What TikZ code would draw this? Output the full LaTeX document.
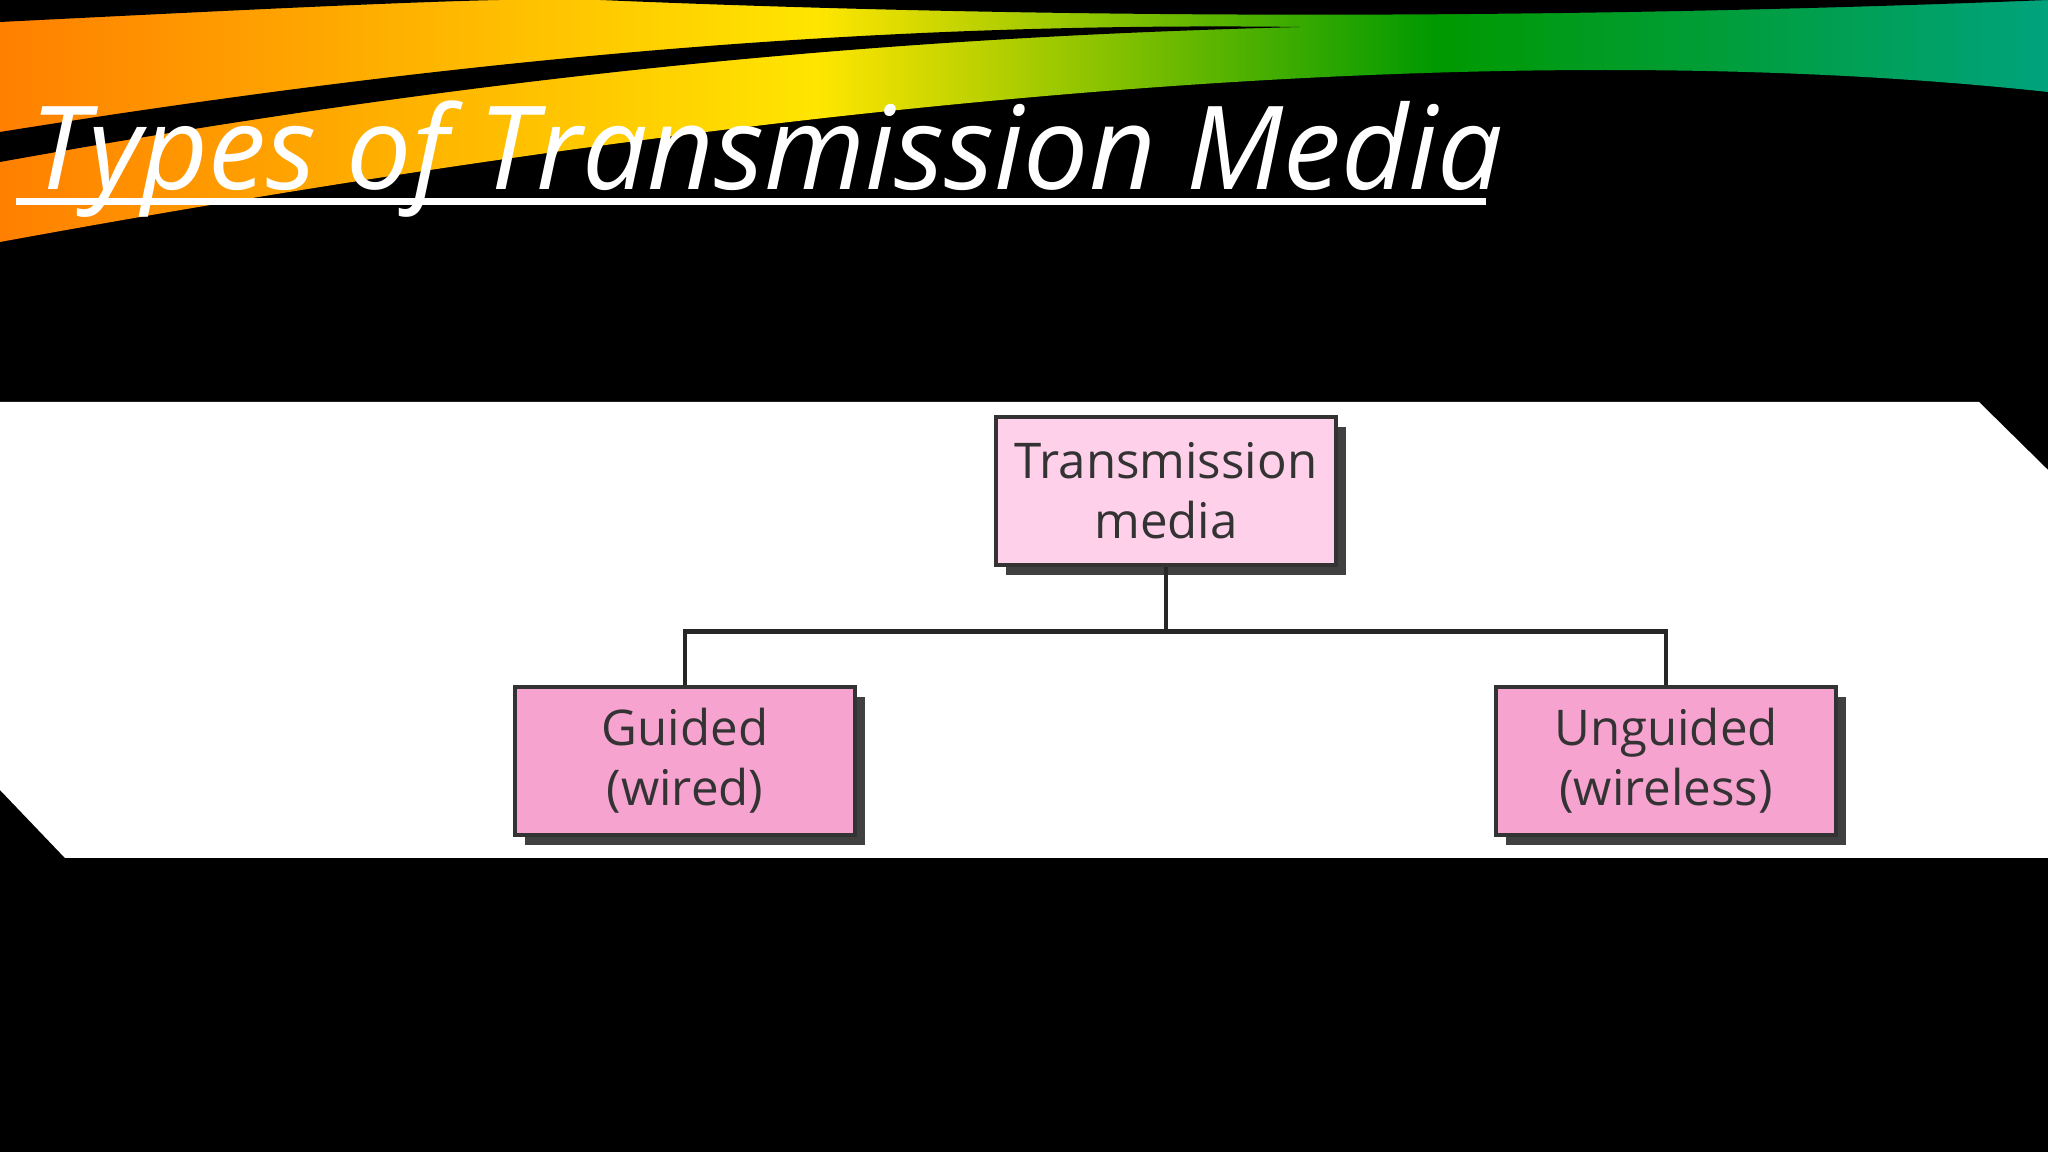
\documentclass[tikz,border=0pt]{standalone}
\usepackage{fontspec}
\setmainfont{Open Sans}
\usetikzlibrary{positioning,shadows}
\definecolor{palepink}{HTML}{FFD0EA}
\definecolor{deeppink}{HTML}{F7A3D0}
\pgfdeclarehorizontalshading{rainbow}{100bp}{
  color(0bp)=(red!90!black); color(25bp)=(orange); color(45bp)=(yellow!80!orange);
  color(60bp)=(green!60!black); color(80bp)=(teal!70!cyan); color(100bp)=(cyan!60!white)}
\begin{document}
\begin{tikzpicture}[
    box/.style={rectangle, draw=black!80, line width=1.2pt, minimum height=1.48cm, minimum width=3.4cm, align=center, font=\fontsize{14}{17}\selectfont, text=black!80, drop shadow={shadow xshift=0.1cm, shadow yshift=-0.1cm, fill=black!75, opacity=1}},
    link/.style={draw=black!85, line width=1.4pt}
]
    % Background and band
    \fill[black] (0,0) rectangle (20.48,11.52);
    \useasboundingbox (0,0) rectangle (20.48,11.52);
    \fill[white] (0,7.50) -- (19.79,7.50) -- (20.48,6.82) -- (20.48,2.94) -- (0.65,2.94) -- (0,3.62) -- cycle;

    % Swoosh
    \shade[shading=rainbow] (0,9.1) .. controls (6,10.2) and (14,11.3) .. (20.48,10.6) -- (20.48,11.52) -- (0,11.52) -- cycle;
    \fill[black] (0,10.2) .. controls (5,11.0) and (9,11.3) .. (13,11.25) .. controls (9,11.15) and (5,10.8) .. (0,9.9) -- cycle;
    \fill[black] (6,11.52) .. controls (10,11.35) and (15,11.3) .. (20.48,11.52) -- cycle;
    \fill[black] (0,11.52) -- (0,11.3) .. controls (2,11.4) and (4,11.5) .. (5,11.52) -- cycle;

    % Title
    \node[anchor=base west, text=white, font=\fontsize{33}{40}\selectfont\itshape, inner sep=0pt] (title) at (0.3,9.62) {Types of Transmission Media};
    \draw[white, line width=2pt] (0.16,9.5) -- (14.86,9.5);

    % Blocks
    \node[box, fill=palepink] (media) at (11.66,6.61) {Transmission\\media};
    \node[box, fill=deeppink] (guided) at (6.85,3.91) {Guided\\(wired)};
    \node[box, fill=deeppink] (unguided) at (16.66,3.91) {Unguided\\(wireless)};

    % Lines
    \coordinate (join) at ([yshift=-0.64cm]media.south);
    \draw[link] (media.south) -- (join);
    \draw[link] (guided.north) |- (join) -| (unguided.north);
\end{tikzpicture}
\end{document}
